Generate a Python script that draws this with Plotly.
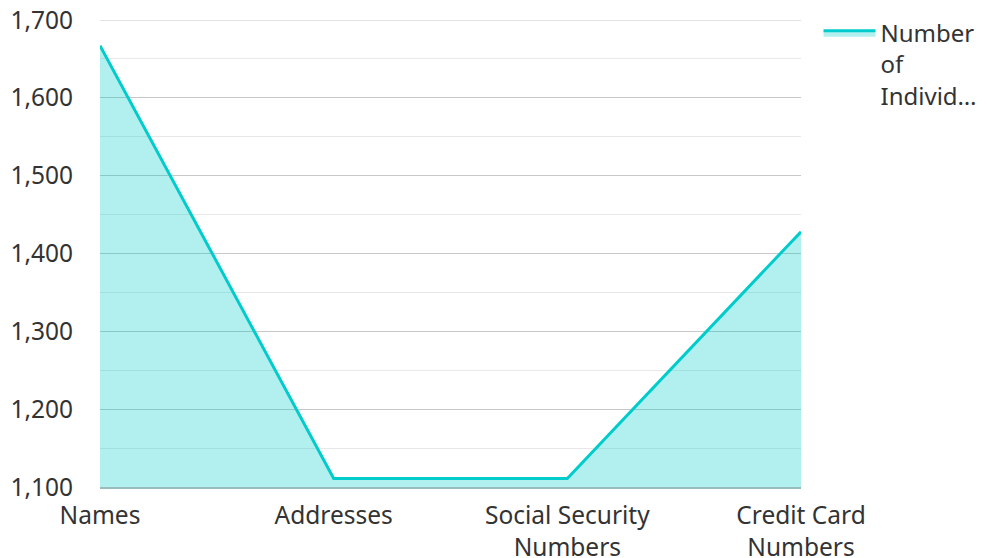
import plotly.graph_objects as go

categories = ["Names", "Addresses", "Social Security<br>Numbers", "Credit Card<br>Numbers"]
values = [1667, 1111, 1111, 1428]
series_name = "Number<br>of<br>Individ…"
y_ticks = [1100, 1200, 1300, 1400, 1500, 1600, 1700]
y_tick_labels = ["1,100", "1,200", "1,300", "1,400", "1,500", "1,600", "1,700"]

fig = go.Figure()
fig.add_trace(go.Scatter(
    x=list(range(len(categories))), y=values, name=series_name,
    mode="lines", line=dict(color="#00CCCC", width=3),
    fill="tozeroy", fillcolor="rgba(0,204,204,0.3)",
))
# top gridline (plotly omits the grid line on the axis edge)
fig.add_hline(y=y_ticks[-1], line=dict(color="#C8C8C8", width=1), layer="below")

font = dict(family="Noto Sans, Open Sans, sans-serif", size=24.5, color="#333333")
legend_font = dict(family="Noto Sans, Open Sans, sans-serif", size=24, color="#333333")
fig.update_layout(
    width=979, height=550,
    margin=dict(l=92, r=186, t=12, b=71, autoexpand=False),
    paper_bgcolor="white", plot_bgcolor="white",
    font=font,
    showlegend=True,
    legend=dict(x=1.025, y=1.02, xanchor="left", yanchor="top", valign="top",
                font=legend_font, itemwidth=52, tracegroupgap=0),
    xaxis=dict(range=[0, 3], tickmode="array", tickvals=list(range(len(categories))),
               ticktext=categories, showgrid=False, zeroline=False,
               ticks="outside", ticklen=6, tickcolor="rgba(0,0,0,0)",
               showline=True, linecolor="#99BBBB", linewidth=2, layer="above traces",
               ticklabeloverflow="allow"),
    yaxis=dict(range=[1100, 1700], tickmode="array", tickvals=y_ticks,
               ticktext=y_tick_labels, showgrid=True, gridcolor="#C8C8C8", gridwidth=1,
               zeroline=False, ticks="outside", ticklen=21, tickcolor="rgba(0,0,0,0)",
               minor=dict(dtick=50, showgrid=True, gridcolor="#E8E8E8", gridwidth=1),
               layer="above traces", ticklabeloverflow="allow"),
)

fig.write_html("out.html")
